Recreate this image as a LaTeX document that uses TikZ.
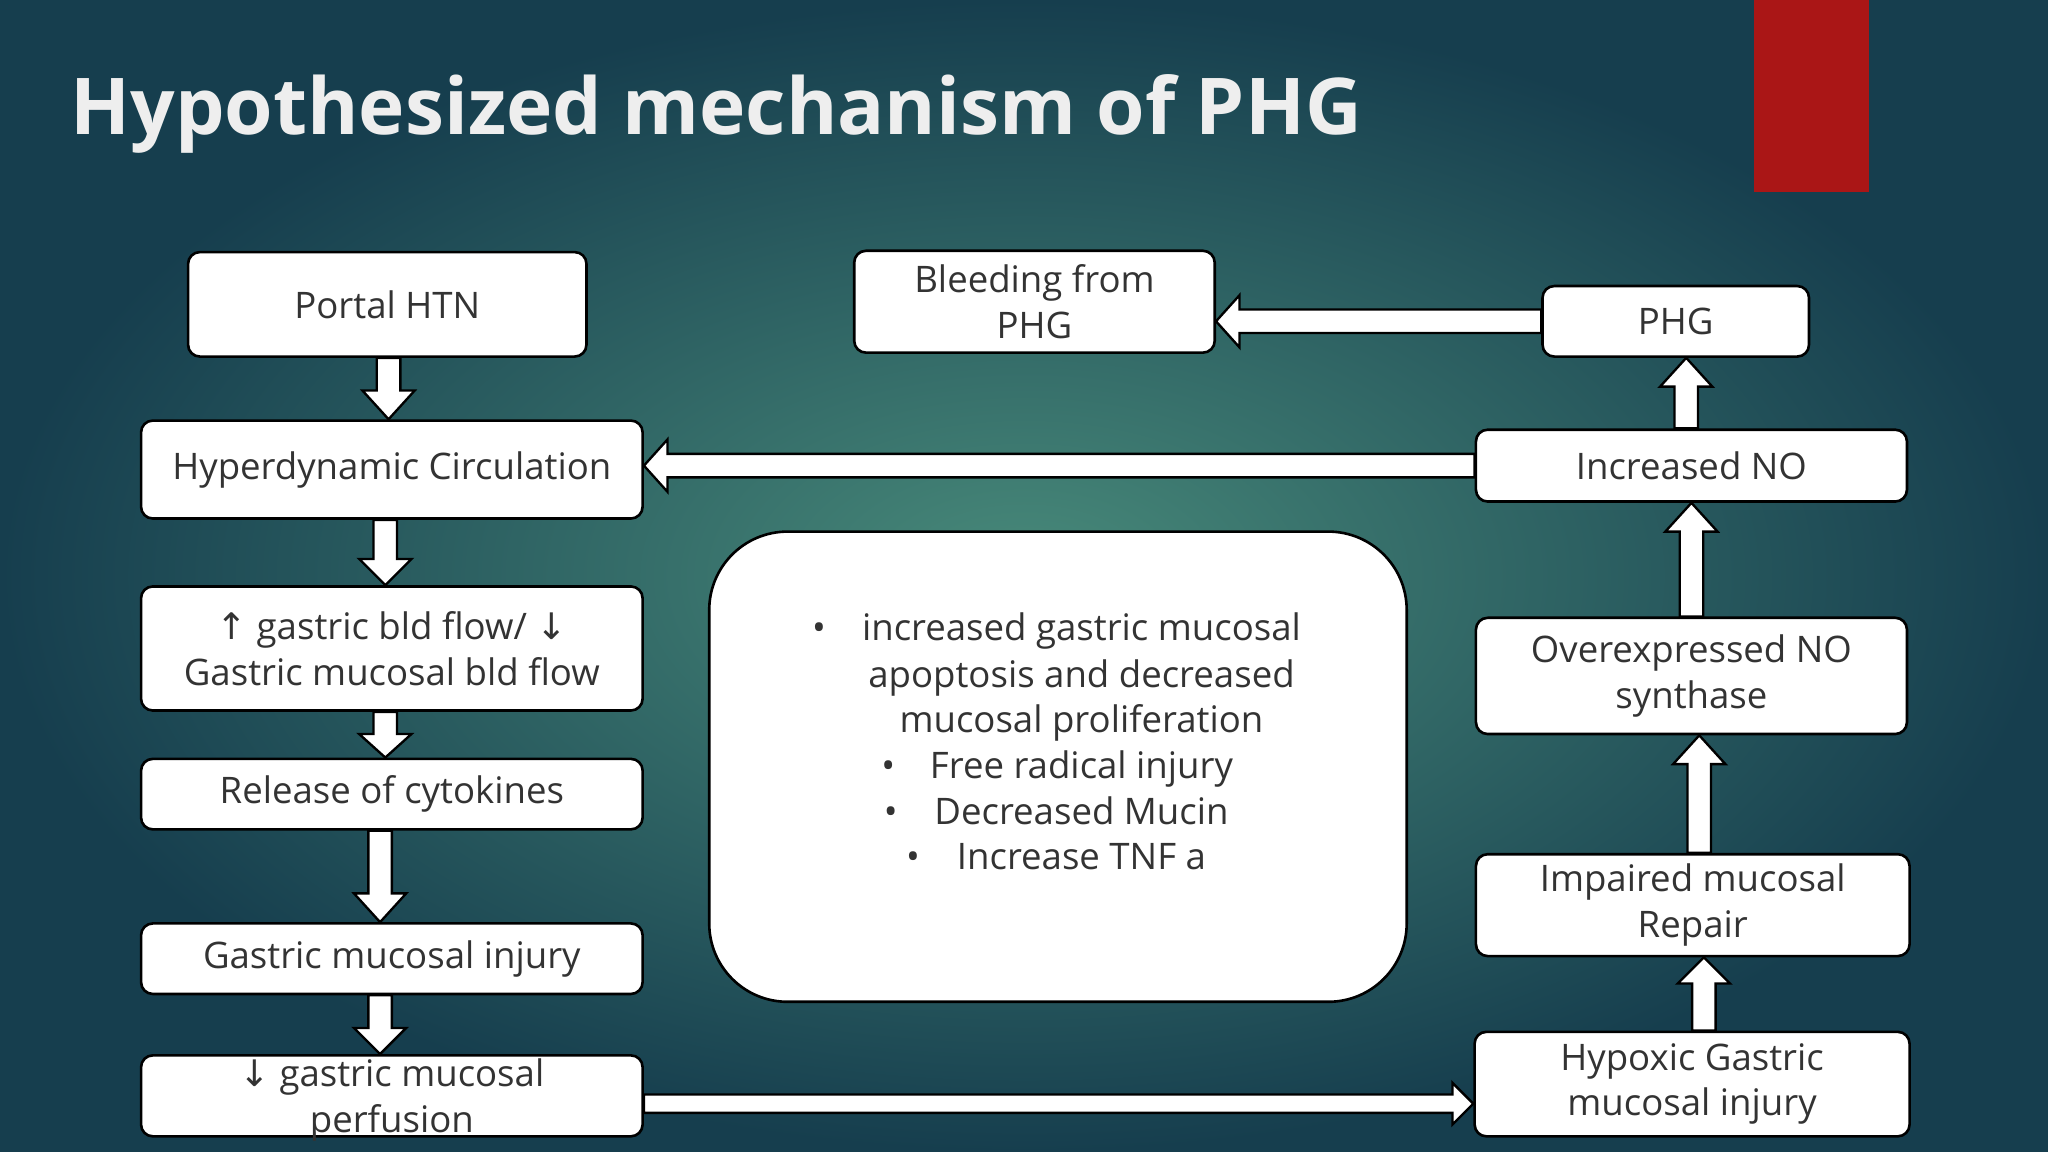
\documentclass[tikz,border=0pt]{standalone}
\usepackage{fontspec}
\setmainfont{Open Sans}
\newfontfamily\djv{DejaVu Sans}
\usetikzlibrary{calc}
\definecolor{bgin}{RGB}{72,138,122}
\definecolor{bgout}{RGB}{22,62,78}
\definecolor{redbar}{RGB}{170,22,22}
\definecolor{ttl}{RGB}{238,238,238}
\begin{document}
\begin{tikzpicture}[x=1pt,y=-1pt,
 box/.style={draw=black,line width=2pt,fill=white,rounded corners=9pt,text=black!80,font=\fontsize{28}{35}\selectfont,align=center,inner sep=0pt},
 blk/.style={draw=black,line width=1.8pt,fill=white,line join=miter},
 txt/.style={text=black!80,font=\fontsize{28}{35}\selectfont,anchor=base,inner sep=0pt}]
\shade[inner color=bgin,outer color=bgout] (0,0) rectangle (1568,882);
\useasboundingbox (0,0) rectangle (1568,882);
\fill[redbar] (1343,0) rectangle (1431,147);
\node[anchor=base west,text=ttl,font=\fontsize{60}{62}\selectfont\bfseries,inner sep=0pt] (title) at (54,103) {Hypothesized mechanism of PHG};
% boxes
\newcommand\bx[6]{\node[box,minimum width=#4-#2,minimum height=#5-#3] (#1) at ({(#2+#4)/2},{(#3+#5)/2}) {#6};}
\bx{htn}{144}{193}{449}{273}{Portal HTN}
\bx{bleed}{654}{192}{930}{270}{Bleeding from\\PHG}
\bx{phg}{1181}{219}{1385}{273}{PHG}
\bx{hyper}{108}{322}{492}{397}{Hyperdynamic Circulation}
\bx{ino}{1130}{329}{1460}{384}{Increased NO}
\bx{flow}{108}{449}{492}{544}{{\djv ↑} gastric bld flow/ {\djv ↓}\\Gastric mucosal bld flow}
\bx{over}{1130}{473}{1460}{562}{Overexpressed NO\\synthase}
\bx{cyto}{108}{581}{492}{635}{Release of cytokines}
\bx{imp}{1130}{654}{1462}{732}{Impaired mucosal\\Repair}
\bx{inj}{108}{707}{492}{761}{Gastric mucosal injury}
\node[box,minimum width=384,minimum height=62] (perf) at (300,839) {};
\node[txt] (perft) at (300,832) {{\djv ↓} gastric mucosal};
\node[txt] (perft2) at (300,867) {perfusion};
\bx{hyp}{1129}{790}{1462}{870}{Hypoxic Gastric\\mucosal injury}
\node[box,rounded corners=60pt,minimum width=534,minimum height=360] (big) at (810,587) {};
\node[txt] (b1) at (627,490) {•};
\node[txt] (l1) at (828,490) {increased gastric mucosal};
\node[txt] (l2) at (828,526) {apoptosis and decreased};
\node[txt] (l3) at (828,561) {mucosal proliferation};
\node[txt] (b2) at (680,596) {•};
\node[txt] (l4) at (828,596) {Free radical injury};
\node[txt] (b3) at (682,631) {•};
\node[txt] (l5) at (828,631) {Decreased Mucin};
\node[txt] (b4) at (699,666) {•};
\node[txt] (l6) at (828,666) {Increase TNF a};
% block arrows
\newcommand\varr[5]{\draw[blk] let \p1=(#1), \p2=(#2), \n1={sign(\y2-\y1)} in
 (\x1-#3,\y1) -- (\x1-#3,\y2-\n1*#5) -- (\x1-#4,\y2-\n1*#5) -- (\x1,\y2) -- (\x1+#4,\y2-\n1*#5) -- (\x1+#3,\y2-\n1*#5) -- (\x1+#3,\y1) -- cycle;}
\newcommand\harr[5]{\draw[blk] let \p1=(#1), \p2=(#2), \n1={sign(\x2-\x1)} in
 (\x1,\y1-#3) -- (\x2-\n1*#5,\y1-#3) -- (\x2-\n1*#5,\y1-#4) -- (\x2,\y1) -- (\x2-\n1*#5,\y1+#4) -- (\x2-\n1*#5,\y1+#3) -- (\x1,\y1+#3) -- cycle;}
\varr{[xshift=1pt]htn.south}{[xshift=1pt]hyper.north}{9pt}{20pt}{22pt}
\varr{[xshift=-5pt]hyper.south}{[xshift=-5pt]flow.north}{9pt}{20pt}{20pt}
\varr{[xshift=-5pt]flow.south}{[xshift=-5pt]cyto.north}{9pt}{20pt}{18pt}
\varr{[xshift=-9pt]cyto.south}{[xshift=-9pt]inj.north}{9pt}{20pt}{22pt}
\varr{[xshift=-9pt]inj.south}{[xshift=-9pt]perf.north}{9pt}{20pt}{20pt}
\varr{[xshift=9pt]hyp.north}{[xshift=9pt]imp.south}{9pt}{20pt}{20pt}
\varr{[xshift=5pt]imp.north}{[xshift=5pt]over.south}{9pt}{20pt}{22pt}
\varr{over.north}{ino.south}{9pt}{20pt}{22pt}
\varr{[xshift=-4pt]ino.north}{[xshift=-4pt]phg.south}{9pt}{20pt}{22pt}
\harr{ino.west}{hyper.east}{9pt}{20pt}{18pt}
\harr{phg.west}{bleed.east}{9pt}{20pt}{18pt}
\harr{[yshift=-6pt]perf.east}{[yshift=-6pt]hyp.west}{7pt}{16pt}{16pt}
\end{tikzpicture}
\end{document}
